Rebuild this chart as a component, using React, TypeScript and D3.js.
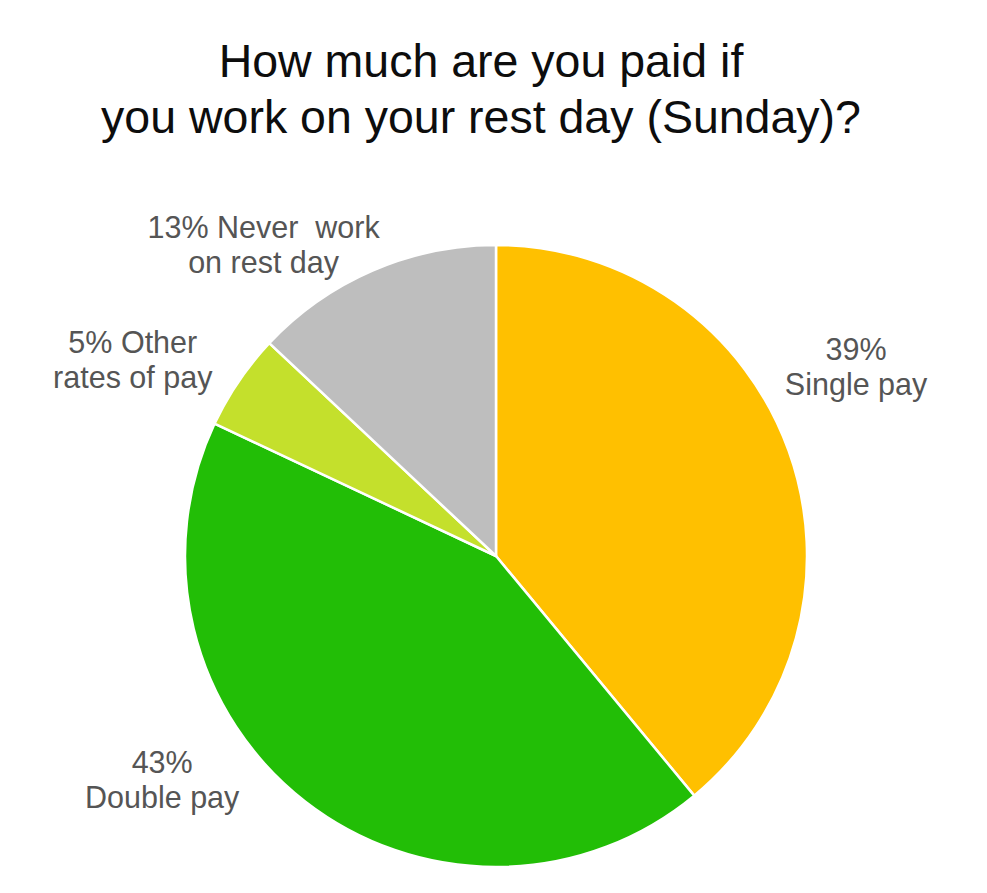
import React from 'react';
import * as d3 from 'd3';

// --- Data ---
const TITLE_LINES = ['How much are you paid if', 'you work on your rest day (Sunday)?'];
const CATEGORIES = ['Single pay', 'Double pay', 'Other rates of pay', 'Never work on rest day'];
const VALUES = [39, 43, 5, 13];
const COLORS = ['#FFC000', '#22BE06', '#C4E02C', '#BEBEBE'];
// label text, split into the two lines drawn in the picture
const LABEL_LINES = [
    ['39%', 'Single pay'],
    ['43%', 'Double pay'],
    ['5% Other', 'rates of pay'],
    ['13% Never  work', 'on rest day'],
];

const W = 987;
const H = 893;
const CX = 496;
const CY = 556;
const R = 311;

// label placement: polar (degrees clockwise from 12 o'clock, distance from centre)
const LABEL_POLAR: [number, number][] = [
    [63.6, 402],
    [234.9, 408],
    [297.1, 408],
    [322.3, 380],
];

const App: React.FC = () => {
    const pie = d3.pie<number>().sort(null).value(d => d);
    const arcs = pie(VALUES);
    const arc = d3.arc<d3.PieArcDatum<number>>().innerRadius(0).outerRadius(R);

    return (
        <svg width={W} height={H} style={{ display: 'block', position: 'absolute', left: 0, top: 0, background: '#fff' }}
             fontFamily="'Liberation Sans', Arial, sans-serif">
            <rect width={W} height={H} fill="#fff" />
            {TITLE_LINES.map((t, i) => (
                <text key={t} x={481} y={77 + i * 56} textAnchor="middle" fontSize={46.5} fill="#0d0d0d">{t}</text>
            ))}
            <g transform={`translate(${CX},${CY})`}>
                {arcs.map((a, i) => (
                    <path key={CATEGORIES[i]} d={arc(a) || ''} fill={COLORS[i]} stroke="#fff" strokeWidth={2.5} strokeLinejoin="round" />
                ))}
            </g>
            {LABEL_LINES.map((lines, i) => {
                const [deg, dist] = LABEL_POLAR[i];
                const rad = (deg * Math.PI) / 180;
                const x = CX + dist * Math.sin(rad);
                const y = CY - dist * Math.cos(rad);
                return (
                    <text key={CATEGORIES[i]} x={x} y={y} textAnchor="middle" fontSize={30.5} fill="#555"
                          style={{ whiteSpace: 'pre' }}>
                        <tspan x={x} dy={-17.5}>{lines[0]}</tspan>
                        <tspan x={x} dy={35}>{lines[1]}</tspan>
                    </text>
                );
            })}
        </svg>
    );
};

export default App;
